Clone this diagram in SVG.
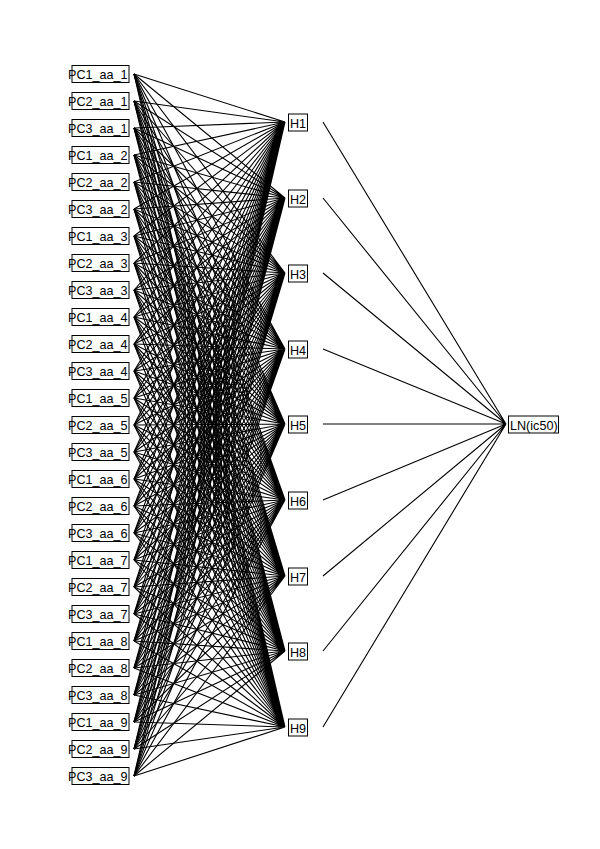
<svg xmlns="http://www.w3.org/2000/svg" width="600" height="849" viewBox="0 0 600 849">
<style>
.b{fill:#fff;stroke:#000;stroke-width:1}
.t{font-family:"Liberation Sans",Arial,sans-serif;font-size:12.6px;fill:#000}
.c{fill:none;stroke:#000;stroke-width:1.1}
</style>
<rect width="600" height="849" fill="#fff"/>
<g id="connectors" class="c">
<path d="M134 74L285 122M134 101L285 122M134 128L285 122M134 155L285 122M134 182L285 122M134 209L285 122M134 236L285 122M134 263L285 122M134 290L285 122M134 317L285 122M134 344L285 122M134 371L285 122M134 398L285 122M134 425L285 122M134 452L285 122M134 479L285 122M134 506L285 122M134 533L285 122M134 560L285 122M134 587L285 122M134 614L285 122M134 641L285 122M134 668L285 122M134 695L285 122M134 722L285 122M134 749L285 122M134 776L285 122"/>
<path d="M134 74L285 198M134 101L285 198M134 128L285 198M134 155L285 198M134 182L285 198M134 209L285 198M134 236L285 198M134 263L285 198M134 290L285 198M134 317L285 198M134 344L285 198M134 371L285 198M134 398L285 198M134 425L285 198M134 452L285 198M134 479L285 198M134 506L285 198M134 533L285 198M134 560L285 198M134 587L285 198M134 614L285 198M134 641L285 198M134 668L285 198M134 695L285 198M134 722L285 198M134 749L285 198M134 776L285 198"/>
<path d="M134 74L285 273M134 101L285 273M134 128L285 273M134 155L285 273M134 182L285 273M134 209L285 273M134 236L285 273M134 263L285 273M134 290L285 273M134 317L285 273M134 344L285 273M134 371L285 273M134 398L285 273M134 425L285 273M134 452L285 273M134 479L285 273M134 506L285 273M134 533L285 273M134 560L285 273M134 587L285 273M134 614L285 273M134 641L285 273M134 668L285 273M134 695L285 273M134 722L285 273M134 749L285 273M134 776L285 273"/>
<path d="M134 74L285 349M134 101L285 349M134 128L285 349M134 155L285 349M134 182L285 349M134 209L285 349M134 236L285 349M134 263L285 349M134 290L285 349M134 317L285 349M134 344L285 349M134 371L285 349M134 398L285 349M134 425L285 349M134 452L285 349M134 479L285 349M134 506L285 349M134 533L285 349M134 560L285 349M134 587L285 349M134 614L285 349M134 641L285 349M134 668L285 349M134 695L285 349M134 722L285 349M134 749L285 349M134 776L285 349"/>
<path d="M134 74L285 424M134 101L285 424M134 128L285 424M134 155L285 424M134 182L285 424M134 209L285 424M134 236L285 424M134 263L285 424M134 290L285 424M134 317L285 424M134 344L285 424M134 371L285 424M134 398L285 424M134 425L285 424M134 452L285 424M134 479L285 424M134 506L285 424M134 533L285 424M134 560L285 424M134 587L285 424M134 614L285 424M134 641L285 424M134 668L285 424M134 695L285 424M134 722L285 424M134 749L285 424M134 776L285 424"/>
<path d="M134 74L285 500M134 101L285 500M134 128L285 500M134 155L285 500M134 182L285 500M134 209L285 500M134 236L285 500M134 263L285 500M134 290L285 500M134 317L285 500M134 344L285 500M134 371L285 500M134 398L285 500M134 425L285 500M134 452L285 500M134 479L285 500M134 506L285 500M134 533L285 500M134 560L285 500M134 587L285 500M134 614L285 500M134 641L285 500M134 668L285 500M134 695L285 500M134 722L285 500M134 749L285 500M134 776L285 500"/>
<path d="M134 74L285 576M134 101L285 576M134 128L285 576M134 155L285 576M134 182L285 576M134 209L285 576M134 236L285 576M134 263L285 576M134 290L285 576M134 317L285 576M134 344L285 576M134 371L285 576M134 398L285 576M134 425L285 576M134 452L285 576M134 479L285 576M134 506L285 576M134 533L285 576M134 560L285 576M134 587L285 576M134 614L285 576M134 641L285 576M134 668L285 576M134 695L285 576M134 722L285 576M134 749L285 576M134 776L285 576"/>
<path d="M134 74L285 651M134 101L285 651M134 128L285 651M134 155L285 651M134 182L285 651M134 209L285 651M134 236L285 651M134 263L285 651M134 290L285 651M134 317L285 651M134 344L285 651M134 371L285 651M134 398L285 651M134 425L285 651M134 452L285 651M134 479L285 651M134 506L285 651M134 533L285 651M134 560L285 651M134 587L285 651M134 614L285 651M134 641L285 651M134 668L285 651M134 695L285 651M134 722L285 651M134 749L285 651M134 776L285 651"/>
<path d="M134 74L285 727M134 101L285 727M134 128L285 727M134 155L285 727M134 182L285 727M134 209L285 727M134 236L285 727M134 263L285 727M134 290L285 727M134 317L285 727M134 344L285 727M134 371L285 727M134 398L285 727M134 425L285 727M134 452L285 727M134 479L285 727M134 506L285 727M134 533L285 727M134 560L285 727M134 587L285 727M134 614L285 727M134 641L285 727M134 668L285 727M134 695L285 727M134 722L285 727M134 749L285 727M134 776L285 727"/>
<path d="M323 122L506 424M323 198L506 424M323 273L506 424M323 349L506 424M323 424L506 424M323 500L506 424M323 576L506 424M323 651L506 424M323 727L506 424"/>
</g>
<g id="inputs">
<g id="in1"><rect class="b" x="72" y="65.5" width="57" height="17"/><text class="t" x="68" y="79">PC1_aa_1</text></g>
<g id="in2"><rect class="b" x="72" y="92.5" width="57" height="17"/><text class="t" x="68" y="106">PC2_aa_1</text></g>
<g id="in3"><rect class="b" x="72" y="119.5" width="57" height="17"/><text class="t" x="68" y="133">PC3_aa_1</text></g>
<g id="in4"><rect class="b" x="72" y="146.5" width="57" height="17"/><text class="t" x="68" y="160">PC1_aa_2</text></g>
<g id="in5"><rect class="b" x="72" y="173.5" width="57" height="17"/><text class="t" x="68" y="187">PC2_aa_2</text></g>
<g id="in6"><rect class="b" x="72" y="200.5" width="57" height="17"/><text class="t" x="68" y="214">PC3_aa_2</text></g>
<g id="in7"><rect class="b" x="72" y="227.5" width="57" height="17"/><text class="t" x="68" y="241">PC1_aa_3</text></g>
<g id="in8"><rect class="b" x="72" y="254.5" width="57" height="17"/><text class="t" x="68" y="268">PC2_aa_3</text></g>
<g id="in9"><rect class="b" x="72" y="281.5" width="57" height="17"/><text class="t" x="68" y="295">PC3_aa_3</text></g>
<g id="in10"><rect class="b" x="72" y="308.5" width="57" height="17"/><text class="t" x="68" y="322">PC1_aa_4</text></g>
<g id="in11"><rect class="b" x="72" y="335.5" width="57" height="17"/><text class="t" x="68" y="349">PC2_aa_4</text></g>
<g id="in12"><rect class="b" x="72" y="362.5" width="57" height="17"/><text class="t" x="68" y="376">PC3_aa_4</text></g>
<g id="in13"><rect class="b" x="72" y="389.5" width="57" height="17"/><text class="t" x="68" y="403">PC1_aa_5</text></g>
<g id="in14"><rect class="b" x="72" y="416.5" width="57" height="17"/><text class="t" x="68" y="430">PC2_aa_5</text></g>
<g id="in15"><rect class="b" x="72" y="443.5" width="57" height="17"/><text class="t" x="68" y="457">PC3_aa_5</text></g>
<g id="in16"><rect class="b" x="72" y="470.5" width="57" height="17"/><text class="t" x="68" y="484">PC1_aa_6</text></g>
<g id="in17"><rect class="b" x="72" y="497.5" width="57" height="17"/><text class="t" x="68" y="511">PC2_aa_6</text></g>
<g id="in18"><rect class="b" x="72" y="524.5" width="57" height="17"/><text class="t" x="68" y="538">PC3_aa_6</text></g>
<g id="in19"><rect class="b" x="72" y="551.5" width="57" height="17"/><text class="t" x="68" y="565">PC1_aa_7</text></g>
<g id="in20"><rect class="b" x="72" y="578.5" width="57" height="17"/><text class="t" x="68" y="592">PC2_aa_7</text></g>
<g id="in21"><rect class="b" x="72" y="605.5" width="57" height="17"/><text class="t" x="68" y="619">PC3_aa_7</text></g>
<g id="in22"><rect class="b" x="72" y="632.5" width="57" height="17"/><text class="t" x="68" y="646">PC1_aa_8</text></g>
<g id="in23"><rect class="b" x="72" y="659.5" width="57" height="17"/><text class="t" x="68" y="673">PC2_aa_8</text></g>
<g id="in24"><rect class="b" x="72" y="686.5" width="57" height="17"/><text class="t" x="68" y="700">PC3_aa_8</text></g>
<g id="in25"><rect class="b" x="72" y="713.5" width="57" height="17"/><text class="t" x="68" y="727">PC1_aa_9</text></g>
<g id="in26"><rect class="b" x="72" y="740.5" width="57" height="17"/><text class="t" x="68" y="754">PC2_aa_9</text></g>
<g id="in27"><rect class="b" x="72" y="767.5" width="57" height="17"/><text class="t" x="68" y="781">PC3_aa_9</text></g>
</g>
<g id="hidden">
<g id="h1"><rect class="b" x="288.5" y="114" width="19" height="17"/><text class="t" x="290" y="127.5">H1</text></g>
<g id="h2"><rect class="b" x="288.5" y="190" width="19" height="17"/><text class="t" x="290" y="203.5">H2</text></g>
<g id="h3"><rect class="b" x="288.5" y="265" width="19" height="17"/><text class="t" x="290" y="278.5">H3</text></g>
<g id="h4"><rect class="b" x="288.5" y="341" width="19" height="17"/><text class="t" x="290" y="354.5">H4</text></g>
<g id="h5"><rect class="b" x="288.5" y="416" width="19" height="17"/><text class="t" x="290" y="429.5">H5</text></g>
<g id="h6"><rect class="b" x="288.5" y="492" width="19" height="17"/><text class="t" x="290" y="505.5">H6</text></g>
<g id="h7"><rect class="b" x="288.5" y="568" width="19" height="17"/><text class="t" x="290" y="581.5">H7</text></g>
<g id="h8"><rect class="b" x="288.5" y="643" width="19" height="17"/><text class="t" x="290" y="656.5">H8</text></g>
<g id="h9"><rect class="b" x="288.5" y="719" width="19" height="17"/><text class="t" x="290" y="732.5">H9</text></g>
</g>
<g id="output"><rect class="b" x="508.5" y="416" width="50" height="17"/><text class="t" x="510" y="429.5">LN(ic50)</text></g>
</svg>
